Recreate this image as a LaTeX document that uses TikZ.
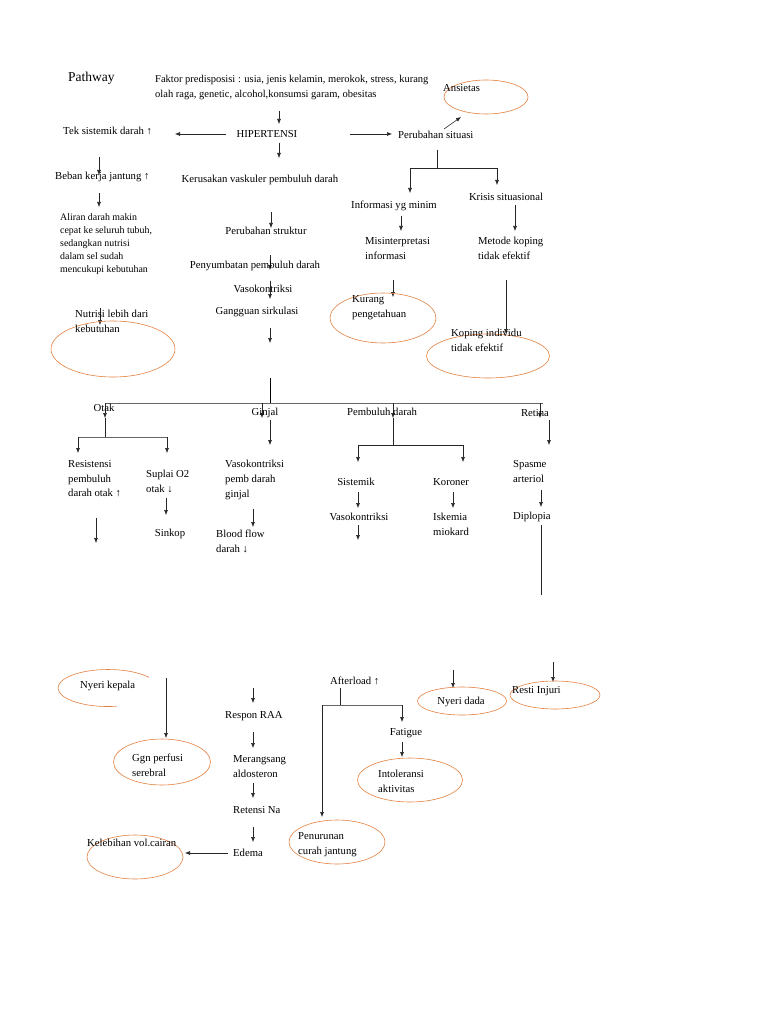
\documentclass[tikz,border=0pt]{standalone}
\usepackage{fontspec}
\setmainfont{Liberation Serif}
\usetikzlibrary{arrows.meta,shapes.geometric}
\definecolor{ovalc}{RGB}{228,128,64}
\newcommand\va[4]{\coordinate (#1s) at (#2,#3);\coordinate (#1e) at (#2,#4);\draw[arr] (#1s) -- (#1e);}
\newcommand\vl[4]{\coordinate (#1s) at (#2,#3);\coordinate (#1e) at (#2,#4);\draw[ln] (#1s) -- (#1e);}
\begin{document}
\begin{tikzpicture}[x=1pt,y=-1pt,
  txt/.style={inner sep=0pt,font=\fontsize{10.7}{14.8}\selectfont},
  blk/.style={txt,align=left,anchor=north west},
  arr/.style={draw=black!85,line width=0.55pt,-{Latex[length=5pt,width=4pt]}},
  ln/.style={draw=black!85,line width=0.55pt},
  oval/.style={draw=ovalc,line width=0.6pt,ellipse,inner sep=0pt}]
\useasboundingbox (0,0) rectangle (768,1024);
\fill[white] (0,0) rectangle (768,1024);
% ---------- top ----------
\node[txt,anchor=west,font=\fontsize{13.5}{15}\selectfont] (path) at (68,78) {Pathway};
\node[blk,font=\fontsize{10.5}{15}\selectfont] (fak) at (155,75) {Faktor predisposisi : usia, jenis kelamin, merokok, stress, kurang\\olah raga, genetic, alcohol,konsumsi garam, obesitas};
\node[oval,minimum width=84pt,minimum height=34pt] (ansO) at (486,97) {};
\node[txt,anchor=west] (ans) at (443,88) {Ansietas};
\node[txt] (hip) at (267,134) {HIPERTENSI};
\node[txt,anchor=west] (tek) at (63,131) {Tek sistemik darah ↑};
\node[txt,anchor=west] (pers) at (398,135) {Perubahan situasi};
\va{a1}{279}{111}{124}
\coordinate (hl) at (226,134);\coordinate (hl2) at (175,134);
\draw[arr] (hl) -- (hl2);
\coordinate (hr) at (350,134);\coordinate (hr2) at (392,134);
\draw[arr] (hr) -- (hr2);
\coordinate (pa) at (444,129);\coordinate (pa2) at (461,117);
\draw[arr] (pa) -- (pa2);
% right branch
\vl{b1}{437}{150}{168}
\coordinate (bL) at (410,168);\coordinate (bR) at (497,168);
\draw[ln] (bL) -- (bR);
\va{b2}{410}{168}{193}
\va{b3}{497}{168}{185}
\node[txt] (info) at (394,206) {Informasi yg minim};
\node[txt] (kris) at (506,197) {Krisis situasional};
\va{b4}{401}{216}{231}
\va{b5}{515}{205}{231}
\node[blk] (mis) at (365,237) {Misinterpretasi\\informasi};
\node[blk] (met) at (478,237) {Metode koping\\tidak efektif};
\va{b6}{393}{280}{297}
\va{b7}{506}{280}{334}
\node[oval,minimum width=106pt,minimum height=50pt] (kurO) at (383,318) {};
\node[blk] (kur) at (352,295) {Kurang\\pengetahuan};
\node[oval,minimum width=123pt,minimum height=44pt] (kopO) at (488,356) {};
\node[blk] (kop) at (451,329) {Koping individu\\tidak efektif};
% left column
\va{c1}{99}{157}{175}
\node[txt,anchor=west] (beb) at (55,177) {Beban kerja jantung ↑};
\va{c2}{99}{193}{207}
\node[blk,font=\fontsize{9.9}{13}\selectfont] (alir) at (60,213) {Aliran darah makin\\cepat ke seluruh tubuh,\\sedangkan nutrisi\\dalam sel sudah\\mencukupi kebutuhan};
\va{c3}{100}{308}{325}
\node[oval,minimum width=124pt,minimum height=56pt] (nutO) at (113,349) {};
\node[blk] (nut) at (75,310) {Nutrisi lebih dari\\kebutuhan};
% middle column
\va{m1}{279}{143}{158}
\node[txt] (ker) at (260,180) {Kerusakan vaskuler pembuluh darah};
\va{m2}{271}{212}{228}
\node[txt] (pstr) at (266,231) {Perubahan struktur};
\va{m3}{270}{255}{270}
\node[txt] (peny) at (255,266) {Penyumbatan pembuluh darah};
\node[txt] (vaso) at (263,289) {Vasokontriksi};
\va{m4}{270}{281}{299}
\node[txt] (gang) at (257,312) {Gangguan sirkulasi};
\va{m5}{270}{328}{343}
% main split
\coordinate (s0) at (270,378);\coordinate (s1) at (270,403);
\draw[draw=black,line width=0.9pt] (s0) -- (s1);
\coordinate (hL) at (105,403);\coordinate (hR) at (543,403);
\draw[ln,draw=black!60] (hL) -- (hR);
\va{d1}{105}{403}{418}
\va{d2}{262}{403}{418}
\va{d3}{393}{403}{418}
\va{d4}{540}{403}{418}
\node[txt] (otak) at (104,408) {Otak};
\node[txt] (ginj) at (265,413) {Ginjal};
\node[txt] (pemb) at (382,412) {Pembuluh darah};
\node[txt] (ret) at (535,413) {Retina};
% Otak
\vl{o1}{105}{418}{437}
\coordinate (oL) at (78,437);\coordinate (oR) at (167,437);
\draw[ln,draw=black!60] (oL) -- (oR);
\va{o2}{78}{437}{453}
\va{o3}{167}{437}{453}
\node[blk] (res) at (68,460) {Resistensi\\pembuluh\\darah otak ↑};
\node[blk] (sup) at (146,470) {Suplai O2\\otak ↓};
\va{o4}{166}{498}{515}
\node[txt] (sink) at (170,534) {Sinkop};
\va{o5}{96}{518}{543}
% Ginjal
\va{g1}{270}{420}{445}
\node[blk] (vgin) at (225,460) {Vasokontriksi\\pemb darah\\ginjal};
\va{g2}{253}{509}{527}
\node[blk] (blood) at (216,530) {Blood flow\\darah ↓};
% Pembuluh darah
\vl{p1}{393}{418}{445}
\coordinate (pL) at (358,445);\coordinate (pR) at (463,445);
\draw[ln] (pL) -- (pR);
\va{p2}{358}{445}{462}
\va{p3}{463}{445}{462}
\node[txt] (sis) at (356,482) {Sistemik};
\node[txt] (kor) at (451,482) {Koroner};
\va{p4}{358}{492}{508}
\va{p5}{453}{492}{508}
\node[txt] (vas2) at (359,517) {Vasokontriksi};
\node[blk] (isk) at (433,513) {Iskemia\\miokard};
\va{p6}{358}{525}{540}
% Retina
\va{r1}{549}{420}{445}
\node[blk] (spa) at (513,460) {Spasme\\arteriol};
\va{r2}{541}{490}{507}
\node[txt,anchor=west] (dip) at (513,517) {Diplopia};
\vl{r3}{541}{525}{595}
% ---------- bottom ----------
\coordinate (nykc) at (108,688);
\draw[draw=ovalc,line width=0.6pt] (nykc) ++(41,-10.6) arc[start angle=-35,end angle=-280,x radius=50,y radius=18.5];
\node[txt,anchor=west] (nyk) at (80,686) {Nyeri kepala};
\va{q1}{166}{678}{738}
\node[oval,minimum width=97pt,minimum height=46pt] (ggnO) at (162,762) {};
\node[blk] (ggn) at (132,754) {Ggn perfusi\\serebral};
\va{q2}{253}{688}{703}
\node[txt,anchor=west] (raa) at (225,716) {Respon RAA};
\va{q3}{253}{732}{748}
\node[blk] (mer) at (233,755) {Merangsang\\aldosteron};
\va{q4}{253}{783}{798}
\node[txt,anchor=west] (retn) at (233,810) {Retensi Na};
\va{q5}{253}{827}{842}
\node[txt,anchor=west] (ede) at (233,853) {Edema};
\coordinate (el) at (228,853);\coordinate (el2) at (185,853);
\draw[arr] (el) -- (el2);
\node[oval,minimum width=96pt,minimum height=44pt] (kelO) at (135,857) {};
\node[txt,anchor=west] (kel) at (87,843) {Kelebihan vol.cairan};
% Afterload
\node[txt,anchor=west] (aft) at (330,681) {Afterload ↑};
\vl{f1}{340}{688}{705}
\coordinate (fL) at (322,705);\coordinate (fR) at (402,705);
\draw[ln,draw=black!60] (fL) -- (fR);
\va{f2}{322}{705}{817}
\va{f3}{402}{705}{722}
\node[txt] (fat) at (406,733) {Fatigue};
\va{f4}{402}{742}{757}
\node[oval,minimum width=105pt,minimum height=44pt] (intO) at (410,780) {};
\node[blk] (int) at (378,770) {Intoleransi\\aktivitas};
\node[oval,minimum width=96pt,minimum height=44pt] (penO) at (337,842) {};
\node[blk] (pen) at (298,832) {Penurunan\\curah jantung};
% right bottom
\va{n1}{453}{670}{688}
\node[oval,minimum width=89pt,minimum height=28pt] (nydO) at (462,701) {};
\node[txt] (nyd) at (461,702) {Nyeri dada};
\va{n2}{553}{662}{682}
\node[oval,minimum width=90pt,minimum height=28pt] (resO) at (555,695) {};
\node[txt,anchor=west] (rest) at (512,691) {Resti Injuri};
\end{tikzpicture}
\end{document}
